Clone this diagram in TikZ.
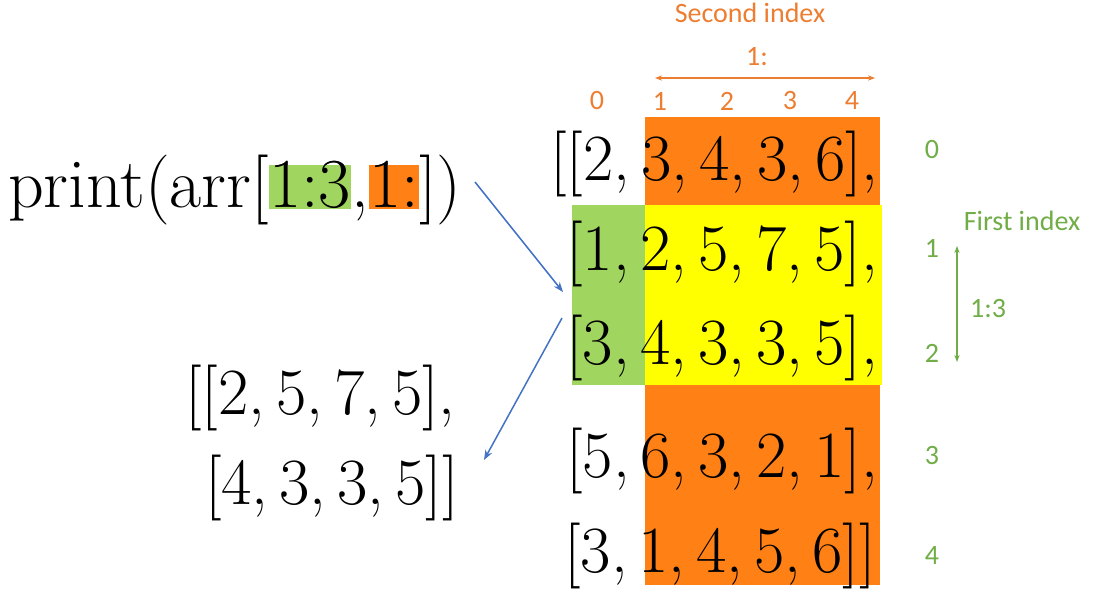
\documentclass[tikz,border=0pt]{standalone}
\usepackage{fontspec}
\newfontfamily\lab{Carlito}
\usetikzlibrary{arrows.meta}
\definecolor{og}{RGB}{255,128,20}
\definecolor{ot}{RGB}{237,125,49}
\definecolor{gf}{RGB}{160,214,96}
\definecolor{gt}{RGB}{112,173,71}
\definecolor{yl}{RGB}{255,255,0}
\definecolor{bl}{RGB}{68,114,196}
\newcommand{\cs}{,\hspace{0.17em}}
\tikzset{
 row/.style={anchor=base west,inner sep=0,font=\fontsize{66}{70}\selectfont},
 big/.style={anchor=base west,inner sep=0,font=\fontsize{70}{74}\selectfont},
 glab/.style={text=gt,font=\lab\fontsize{28}{32}\selectfont,inner sep=0},
 olab/.style={text=ot,font=\lab\fontsize{28}{32}\selectfont,inner sep=0},
 barrow/.style={bl,line width=1.5pt,-{Stealth[length=10pt]}}
}
\begin{document}
\begin{tikzpicture}[x=1pt,y=-1pt]
\useasboundingbox (0,0) rectangle (1097,597);
\fill[og] (645,117) rectangle (880,585);
\fill[yl] (645,205) rectangle (882,385);
\fill[gf] (572,205) rectangle (645,385);
\node[big] (p1) at (8,207) {print(arr[};
\node[big] (p2) at (p1.base east) {1:3};
\node[big] (p3) at (p2.base east) {,};
\node[big] (p4) at (p3.base east) {1:};
\node[big] (p5) at (p4.base east) {])};
\begin{scope}[on background layer/.style={}]
\end{scope}
\fill[gf] ([yshift=-4pt]p2.north west) rectangle ([yshift=-2pt]p2.base east);
\fill[og] ([yshift=-4pt]p4.north west) rectangle ([yshift=-2pt]p4.base east);
\node[big] at (p2.base west) {1:3};
\node[big] at (p4.base west) {1:};
\node[row] (r0) at (550,180) {[[2\cs 3\cs 4\cs 3\cs 6]\cs};
\node[row] (r1) at (566,270) {[1\cs 2\cs 5\cs 7\cs 5]\cs};
\node[row] (r2) at (566,364) {[3\cs 4\cs 3\cs 3\cs 5]\cs};
\node[row] (r3) at (566,477) {[5\cs 6\cs 3\cs 2\cs 1]\cs};
\node[row] (r4) at (564,572) {[3\cs 1\cs 4\cs 5\cs 6]]};
\node[row] (o1) at (185,414) {[[2\cs 5\cs 7\cs 5]\cs};
\node[row] (o2) at (205,504) {[4\cs 3\cs 3\cs 5]]};
\node[olab] (si) at (750,13) {Second index};
\node[olab] (sl) at (757,57) {1:};
\coordinate (sa) at (655,78); \coordinate (sb) at (875,78);
\draw[ot,line width=1.2pt,{Stealth[length=7pt]}-{Stealth[length=7pt]}] (sa) -- (sb);
\foreach \i/\x in {0/597,1/660,2/727,3/790,4/852}
  \node[olab] (c\i) at (\x,101) {\i};
\foreach \i/\y in {0/150,1/248,2/353,3/456,4/556}
  \node[glab] (i\i) at (932,\y) {\i};
\node[glab] (fi) at (1022,221) {First index};
\coordinate (fa) at (957,246); \coordinate (fb) at (957,362);
\draw[gt,line width=1.2pt,{Stealth[length=7pt]}-{Stealth[length=7pt]}] (fa) -- (fb);
\node[glab] (fl) at (988,309) {1:3};
\coordinate (a1) at (475,182); \coordinate (a2) at (563,292);
\coordinate (b1) at (562,318); \coordinate (b2) at (484,460);
\draw[barrow] (a1) -- (a2);
\draw[barrow] (b1) -- (b2);
\end{tikzpicture}
\end{document}
